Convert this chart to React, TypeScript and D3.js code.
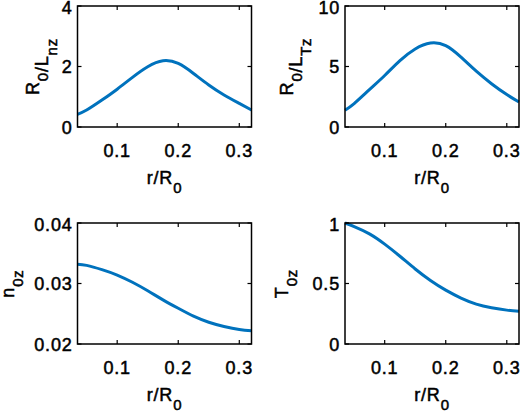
import React from 'react';
import * as d3 from 'd3';

// sample radii (r/R0) shared by all four profiles
const radius = [0.035, 0.05, 0.075, 0.1, 0.125, 0.15, 0.175, 0.2, 0.225, 0.25, 0.275, 0.3, 0.32];

// values
const gradN = [0.42, 0.56, 0.89, 1.25, 1.64, 1.99, 2.19, 2.1, 1.77, 1.39, 1.06, 0.78, 0.56];
const gradT = [1.39, 1.94, 3.09, 4.26, 5.49, 6.45, 6.94, 6.72, 5.77, 4.61, 3.58, 2.68, 2.07];
const densN = [0.0332, 0.033, 0.0323, 0.0314, 0.0302, 0.0288, 0.0273, 0.0259, 0.0246, 0.0236, 0.0229, 0.0224, 0.0222];
const tempT = [1.0, 0.97, 0.91, 0.825, 0.725, 0.62, 0.525, 0.445, 0.38, 0.33, 0.3, 0.28, 0.27];

const xTicks = [0.1, 0.2, 0.3];
const xDomain: [number, number] = [0.035, 0.32];

const FONT = '"Liberation Sans", Arial, Helvetica, sans-serif';
const LINE = '#0072BD';

type Label = { main: string; sub?: string }[];

interface PanelProps {
  values: number[];
  yDomain: [number, number];
  yTicks: number[];
  yFormat: (v: number) => string;
  yLabel: Label;
  left: number;
  top: number;
  labelOffset: number;
}

const W = 174;
const H = 121;
const TICK = 4;

function TexText({ parts, ...rest }: { parts: Label } & React.SVGProps<SVGTextElement>) {
  return (
    <text {...rest}>
      {parts.map((p, i) => (
        <React.Fragment key={i}>
          <tspan>{p.main}</tspan>
          {p.sub && (
            <tspan dy={9} fontSize={15}>
              {p.sub}
            </tspan>
          )}
          {p.sub && i < parts.length - 1 && <tspan dy={-9}>{''}</tspan>}
        </React.Fragment>
      ))}
    </text>
  );
}

function Panel({ values, yDomain, yTicks, yFormat, yLabel, left, top, labelOffset }: PanelProps) {
  const x = d3.scaleLinear().domain(xDomain).range([0, W]);
  const y = d3.scaleLinear().domain(yDomain).range([H, 0]);
  const line = d3
    .line<number>()
    .x((_, i) => x(radius[i]))
    .y((d) => y(d))
    .curve(d3.curveNatural);

  return (
    <g
      transform={`translate(${left},${top})`}
      fontFamily={FONT}
      fontSize={18}
      letterSpacing={0.8}
      stroke="none"
    >
      <path d={line(values) || ''} fill="none" stroke={LINE} strokeWidth={3} />
      <rect x={0} y={0} width={W} height={H} fill="none" stroke="#000" strokeWidth={1.5} />
      <g stroke="#000" strokeWidth={0.5}>
        {xTicks.map((t) => (
          <g key={`x${t}`}>
            <line x1={x(t)} x2={x(t)} y1={H} y2={H - TICK} strokeWidth={1.2} />
            <line x1={x(t)} x2={x(t)} y1={0} y2={TICK} strokeWidth={1.2} />
            <text x={x(t)} y={H + 30} textAnchor="middle">
              {t.toFixed(1)}
            </text>
          </g>
        ))}
        {yTicks.map((t, i) => (
          <g key={`y${t}`}>
            <line x1={0} x2={TICK} y1={y(t)} y2={y(t)} strokeWidth={1.2} />
            <line x1={W} x2={W - TICK} y1={y(t)} y2={y(t)} strokeWidth={1.2} />
            <text
              x={-5}
              y={y(t)}
              dy={i === yTicks.length - 1 ? '0.42em' : '0.38em'}
              textAnchor="end"
            >
              {yFormat(t)}
            </text>
          </g>
        ))}
        <TexText parts={[{ main: 'r/R', sub: '0' }]} x={W / 2} y={H + 57} textAnchor="middle" />
        <TexText
          parts={yLabel}
          transform={`translate(${-labelOffset},${H / 2}) rotate(-90)`}
          textAnchor="middle"
        />
      </g>
    </g>
  );
}

export default function App() {
  return (
    <svg
      width={520}
      height={414}
      style={{ position: 'absolute', left: 0, top: 0, background: '#fff' }}
    >
      <Panel
        values={gradN}
        yDomain={[0, 4]}
        yTicks={[0, 2, 4]}
        yFormat={(v) => String(v)}
        yLabel={[{ main: 'R', sub: '0' }, { main: '/L', sub: 'nz' }]}
        left={77.5}
        top={6}
        labelOffset={39}
      />
      <Panel
        values={gradT}
        yDomain={[0, 10]}
        yTicks={[0, 5, 10]}
        yFormat={(v) => String(v)}
        yLabel={[{ main: 'R', sub: '0' }, { main: '/L', sub: 'Tz' }]}
        left={345}
        top={6}
        labelOffset={52}
      />
      <Panel
        values={densN}
        yDomain={[0.02, 0.04]}
        yTicks={[0.02, 0.03, 0.04]}
        yFormat={(v) => v.toFixed(2)}
        yLabel={[{ main: 'n', sub: '0z' }]}
        left={77.5}
        top={223}
        labelOffset={64}
      />
      <Panel
        values={tempT}
        yDomain={[0, 1]}
        yTicks={[0, 0.5, 1]}
        yFormat={(v) => String(v)}
        yLabel={[{ main: 'T', sub: '0z' }]}
        left={345}
        top={223}
        labelOffset={57}
      />
    </svg>
  );
}
